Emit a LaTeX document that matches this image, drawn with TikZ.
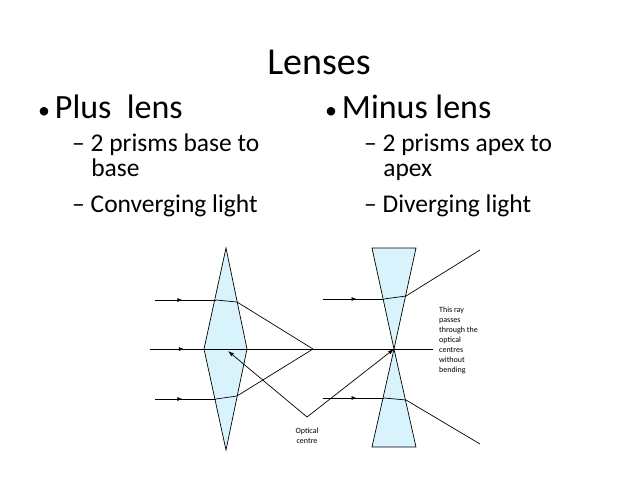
\documentclass[tikz,border=0pt]{standalone}
\usepackage{fontspec}
\setmainfont{Carlito}
\usetikzlibrary{arrows.meta,decorations.markings}
\tikzset{lens/.style={draw=black,fill=cyan!15,line width=0.7pt},
ray/.style={line width=0.7pt},
arr/.style={postaction={decorate},decoration={markings,mark=at position #1 with {\arrow{Latex[length=5pt,width=4pt]}}}},
tiny/.style={font=\fontsize{8}{10}\selectfont,align=left,inner sep=0},
sub/.style={font=\fontsize{25.5}{24.5}\selectfont,anchor=north west,align=left,inner sep=0},
bul/.style={font=\fontsize{34}{36}\selectfont,anchor=west,inner sep=0}}
\begin{document}
\begin{tikzpicture}[x=1pt,y=-1pt]
\useasboundingbox (0,0) rectangle (638,479);
\node[font=\fontsize{38}{40}\selectfont] (title) at (319,62) {Lenses};
\node[bul] (pl) at (38,107) {\fontsize{24}{30}\selectfont•\hspace{0.2em}\fontsize{34}{36}\selectfont Plus\ \ lens};
\node[bul] (ml) at (325,107) {\fontsize{24}{30}\selectfont•\hspace{0.2em}\fontsize{34}{36}\selectfont Minus lens};
\node[sub] (pt) at (72,134) {– 2 prisms base to\\\hspace{0.75em}base\\[12pt]– Converging light};
\node[sub] (mt) at (364,134) {– 2 prisms apex to\\\hspace{0.75em}apex\\[12pt]– Diverging light};
% plus lens
\coordinate (pT) at (226,248); \coordinate (pB) at (226,450);
\coordinate (pL) at (204,349); \coordinate (pR) at (247,349);
\draw[lens] (pT)--(pR)--(pB)--(pL)--cycle;
% minus lens
\draw[lens] (372,248)--(416,248)--(394,349)--cycle;
\draw[lens] (372,447)--(416,447)--(394,349)--cycle;
\coordinate (F) at (313,349); \coordinate (mc) at (394,349);
% plus rays
\draw[ray,arr=0.45] (155,300)--(216,300);
\draw[ray] (216,300)--(237,302)--(F);
\draw[ray,arr=0.45] (155,399)--(216,399);
\draw[ray] (216,399)--(237,396)--(F);
\draw[ray,arr=0.12] (150,349)--(433,349);
% minus rays
\draw[ray,arr=0.55] (323,299)--(384,299);
\draw[ray] (384,299)--(406,296)--(480,250);
\draw[ray,arr=0.55] (323,398)--(384,398);
\draw[ray] (384,398)--(406,400)--(480,444);
% optical centre
\node[tiny,align=center] (oc) at (307,436) {Optical\\centre};
\coordinate (ocp) at (307,417);
\draw[ray,-{Latex[length=6pt,width=4pt]}] (ocp)--(228,351);
\draw[ray,-{Latex[length=6pt,width=4pt]}] (ocp)--(mc);
\node[tiny,anchor=north west] (txt) at (439,307) {This ray\\passes\\through the\\optical\\centres\\without\\bending};
\end{tikzpicture}
\end{document}
